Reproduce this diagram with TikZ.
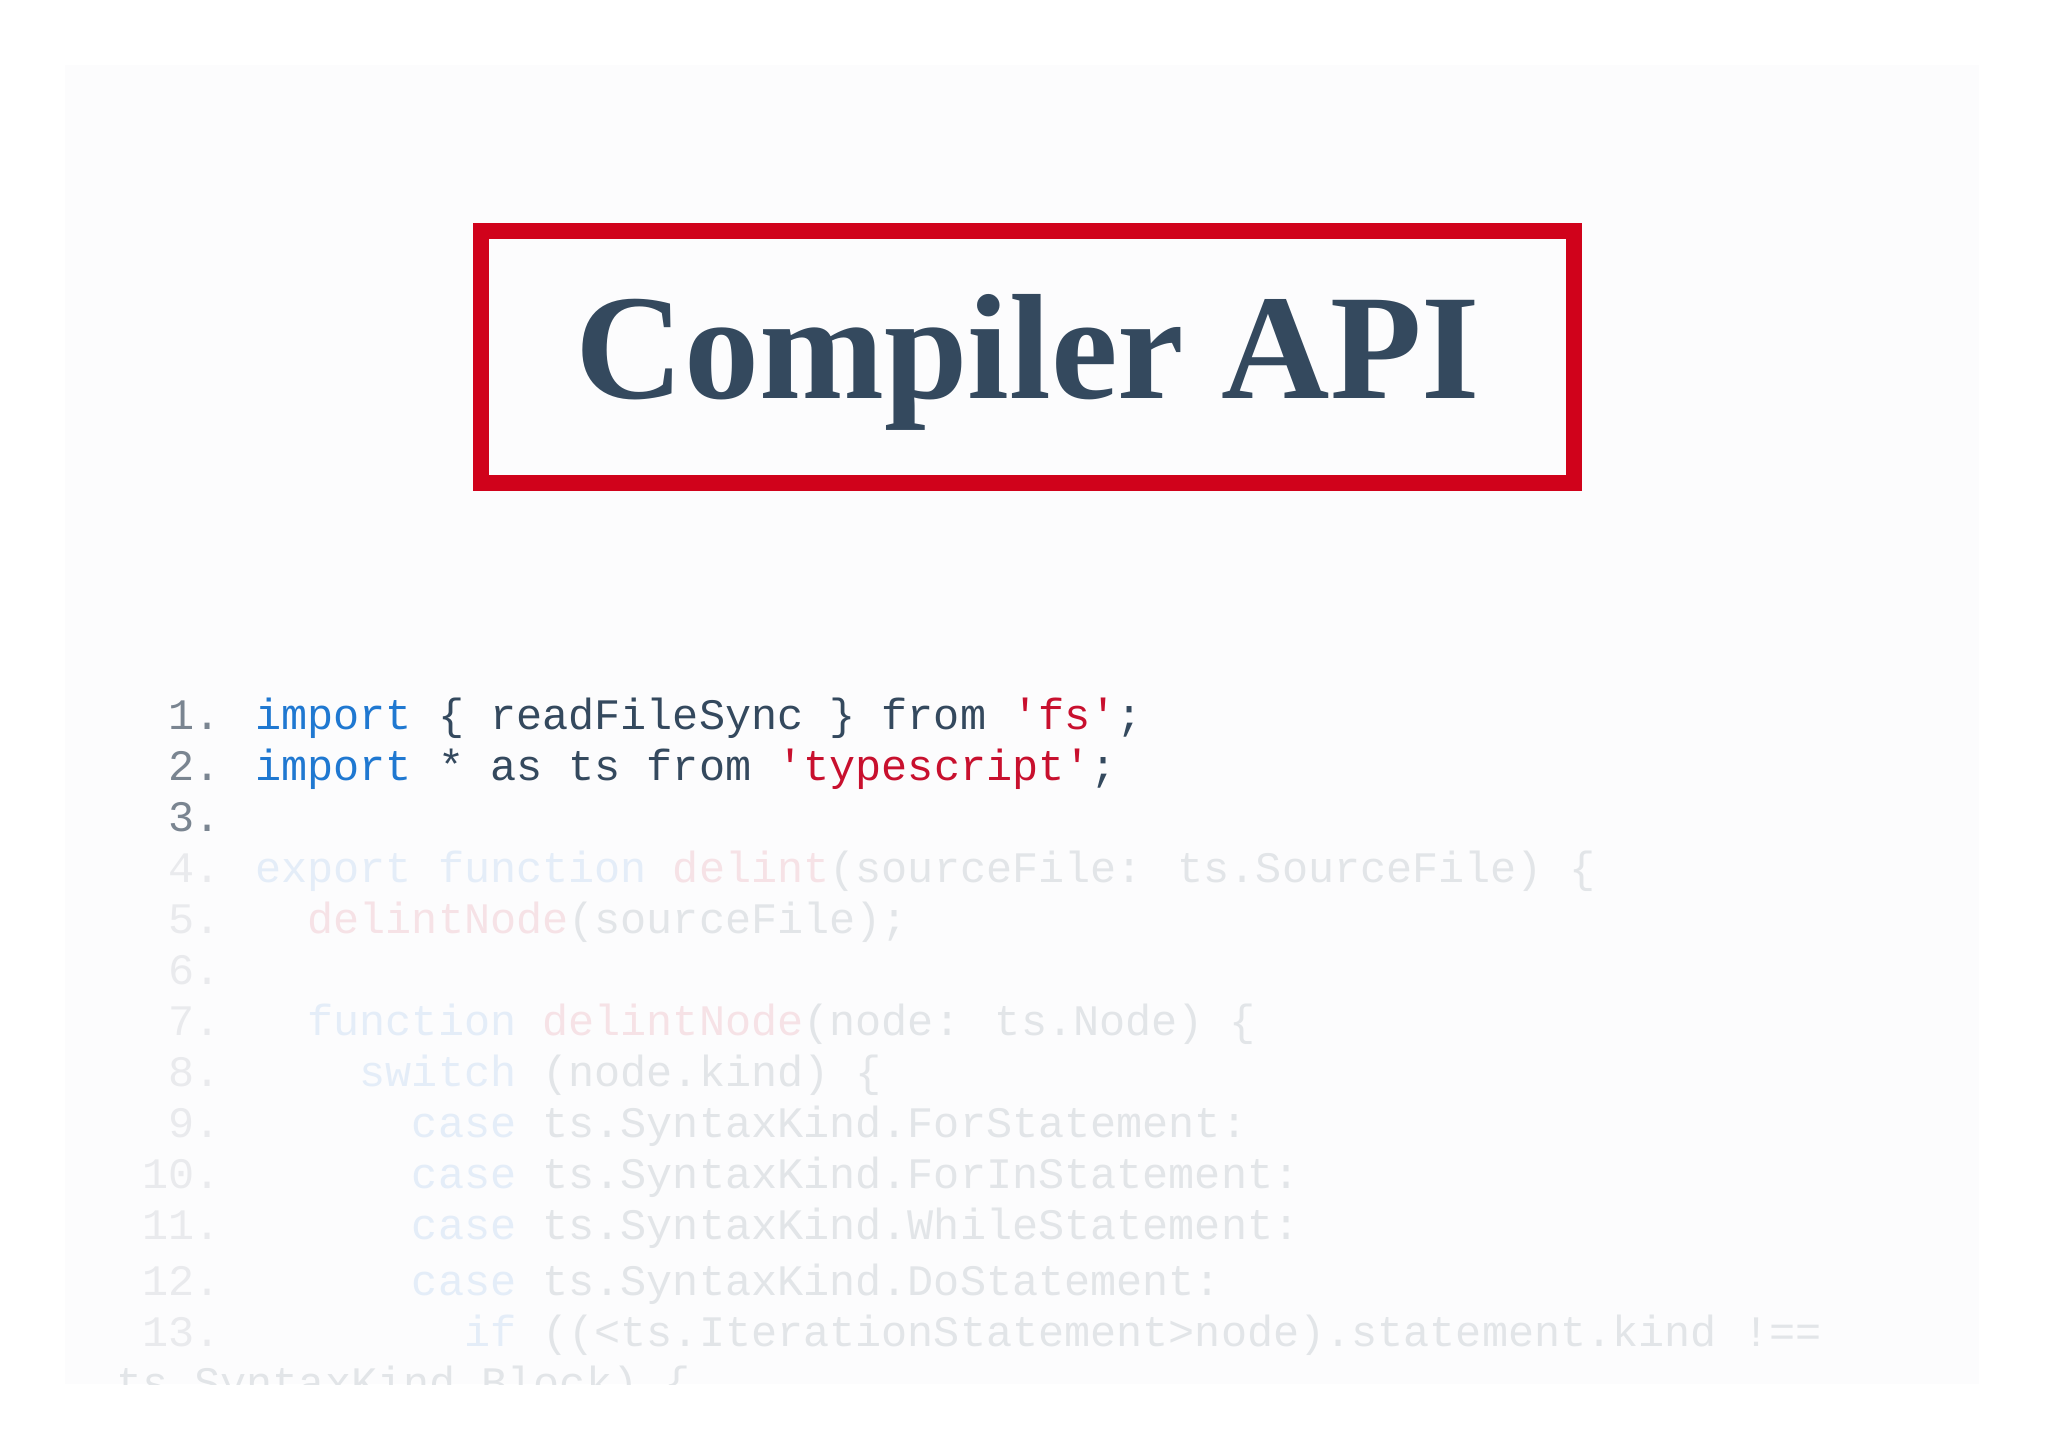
\documentclass[tikz,border=0pt]{standalone}
\usepackage{fontspec}
\setmainfont{Liberation Serif}
\newfontfamily\codefont{Liberation Mono}
\definecolor{panel}{HTML}{FCFCFD}
\definecolor{ink}{HTML}{34495E}
\definecolor{kw}{HTML}{1F78D1}
\definecolor{str}{HTML}{C8102E}
\definecolor{num}{HTML}{7A8591}
\definecolor{frame}{HTML}{D0021B}
\colorlet{fink}{ink!13!panel}
\colorlet{fkw}{kw!11!panel}
\colorlet{fstr}{str!11!panel}
\colorlet{fnum}{num!15!panel}
\newcommand{\K}[1]{\textcolor{kw}{#1}}
\newcommand{\Sx}[1]{\textcolor{str}{#1}}
\newcommand{\Nn}[1]{\textcolor{num}{#1}}
\newcommand{\FK}[1]{\textcolor{fkw}{#1}}
\newcommand{\FS}[1]{\textcolor{fstr}{#1}}
\newcommand{\FN}[1]{\textcolor{fnum}{#1}}
\begin{document}
\begin{tikzpicture}[x=1pt,y=-1pt,
  codeline/.style={anchor=base west,inner sep=0pt,font=\codefont\fontsize{43.5}{51}\selectfont,text=ink},
  fline/.style={codeline,text=fink}]
\useasboundingbox (0,0) rectangle (2048,1449);
\fill[white] (0,0) rectangle (2048,1449);
\fill[panel] (65,65) rectangle (1979,1384);
\node[draw=frame,line width=16pt,minimum width=1093pt,minimum height=252pt,inner sep=0pt] (titlebox) at (1027.5,357) {};
\node[font=\bfseries\fontsize{150}{170}\selectfont,text=ink] (title) at (1028,362) {Compiler API};
\begin{scope}
\clip (65,65) rectangle (1979,1384);
\node[codeline] (l1) at (142,729) {\Nn{\ 1.} \K{import} \{ readFileSync \} from \Sx{'fs'};};
\node[codeline] (l2) at (142,780) {\Nn{\ 2.} \K{import} * as ts from \Sx{'typescript'};};
\node[codeline] (l3) at (142,831) {\Nn{\ 3.}};
\node[fline] (l4) at (142,882) {\FN{\ 4.} \FK{export function} \FS{delint}(sourceFile: ts.SourceFile) \{};
\node[fline] (l5) at (142,933) {\FN{\ 5.} \ \ \FS{delintNode}(sourceFile);};
\node[fline] (l6) at (142,984) {\FN{\ 6.}};
\node[fline] (l7) at (142,1035) {\FN{\ 7.} \ \ \FK{function} \FS{delintNode}(node: ts.Node) \{};
\node[fline] (l8) at (142,1086) {\FN{\ 8.} \ \ \ \ \FK{switch} (node.kind) \{};
\node[fline] (l9) at (142,1137) {\FN{\ 9.} \ \ \ \ \ \ \FK{case} ts.SyntaxKind.ForStatement:};
\node[fline] (l10) at (142,1188) {\FN{10.} \ \ \ \ \ \ \FK{case} ts.SyntaxKind.ForInStatement:};
\node[fline] (l11) at (142,1239) {\FN{11.} \ \ \ \ \ \ \FK{case} ts.SyntaxKind.WhileStatement:};
\node[fline] (l12) at (142,1295) {\FN{12.} \ \ \ \ \ \ \FK{case} ts.SyntaxKind.DoStatement:};
\node[fline] (l13) at (142,1346) {\FN{13.} \ \ \ \ \ \ \ \ \FK{if} ((<ts.IterationStatement>node).statement.kind !==};
\node[fline] (l14) at (116,1397) {ts.SyntaxKind.Block) \{};
\end{scope}
\end{tikzpicture}
\end{document}
